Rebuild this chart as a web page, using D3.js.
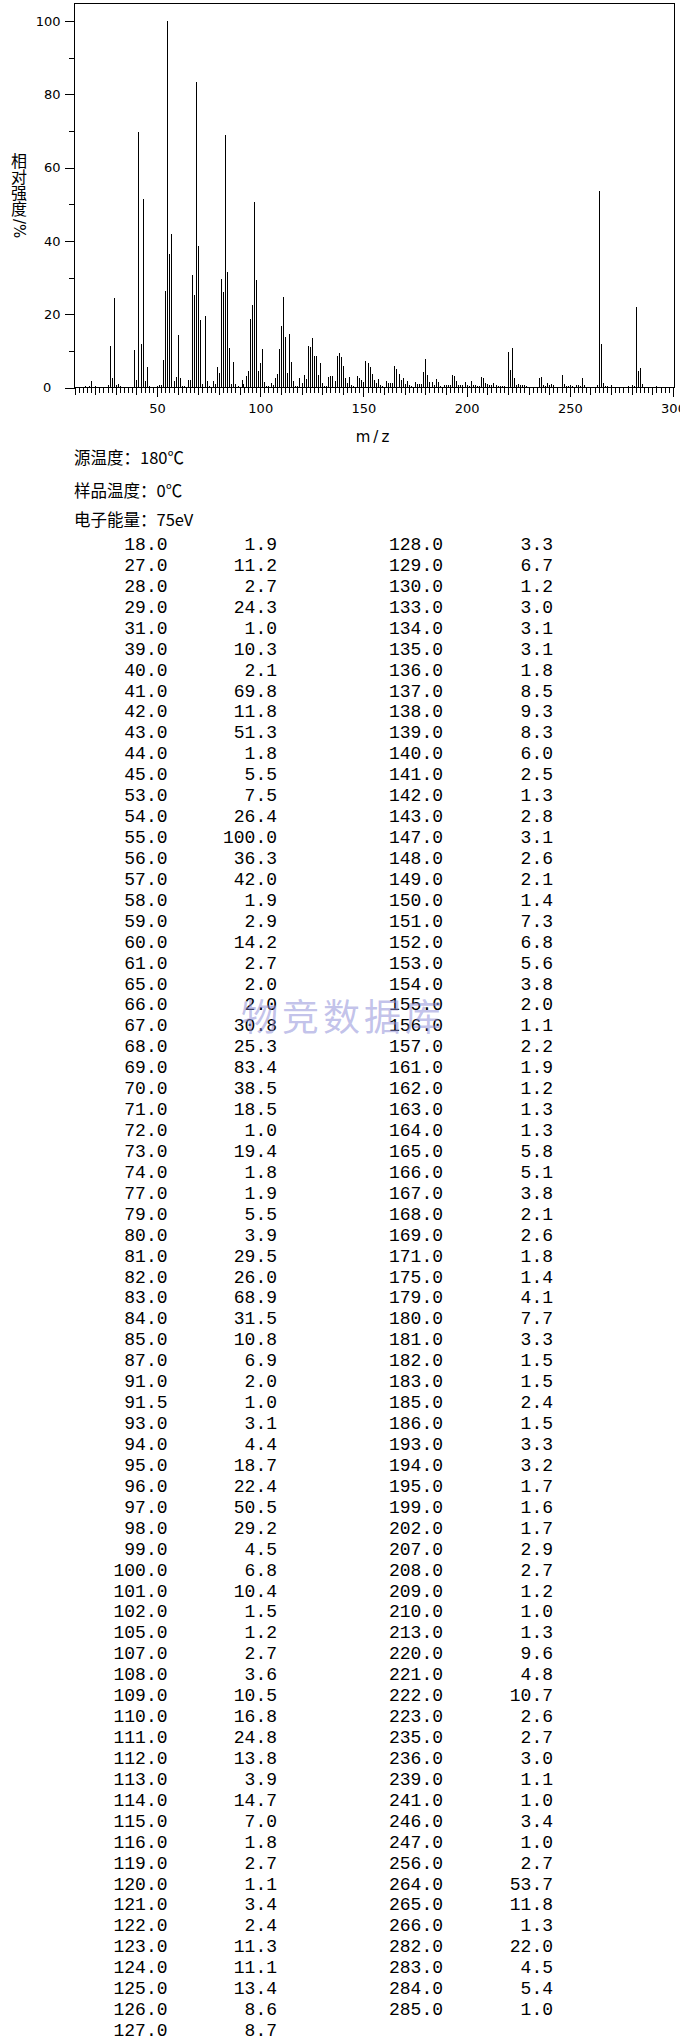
<!DOCTYPE html>
<html><head><meta charset="utf-8">
<script src="https://cdn.jsdelivr.net/npm/d3@7"></script>
<style>html,body{margin:0;padding:0;background:#fff;}</style>
</head><body>
<script>
// ---- data ----
const mzLeft = [18,27,28,29,31,39,40,41,42,43,44,45,53,54,55,56,57,58,59,60,61,65,66,67,68,69,70,71,72,73,74,77,79,80,81,82,83,84,85,87,91,91.5,93,94,95,96,97,98,99,100,101,102,105,107,108,109,110,111,112,113,114,115,116,119,120,121,122,123,124,125,126,127];
const valLeft = [1.9,11.2,2.7,24.3,1.0,10.3,2.1,69.8,11.8,51.3,1.8,5.5,7.5,26.4,100.0,36.3,42.0,1.9,2.9,14.2,2.7,2.0,2.0,30.8,25.3,83.4,38.5,18.5,1.0,19.4,1.8,1.9,5.5,3.9,29.5,26.0,68.9,31.5,10.8,6.9,2.0,1.0,3.1,4.4,18.7,22.4,50.5,29.2,4.5,6.8,10.4,1.5,1.2,2.7,3.6,10.5,16.8,24.8,13.8,3.9,14.7,7.0,1.8,2.7,1.1,3.4,2.4,11.3,11.1,13.4,8.6,8.7];
const mzRight = [128,129,130,133,134,135,136,137,138,139,140,141,142,143,147,148,149,150,151,152,153,154,155,156,157,161,162,163,164,165,166,167,168,169,171,175,179,180,181,182,183,185,186,193,194,195,199,202,207,208,209,210,213,220,221,222,223,235,236,239,241,246,247,256,264,265,266,282,283,284,285];
const valRight = [3.3,6.7,1.2,3.0,3.1,3.1,1.8,8.5,9.3,8.3,6.0,2.5,1.3,2.8,3.1,2.6,2.1,1.4,7.3,6.8,5.6,3.8,2.0,1.1,2.2,1.9,1.2,1.3,1.3,5.8,5.1,3.8,2.1,2.6,1.8,1.4,4.1,7.7,3.3,1.5,1.5,2.4,1.5,3.3,3.2,1.7,1.6,1.7,2.9,2.7,1.2,1.0,1.3,9.6,4.8,10.7,2.6,2.7,3.0,1.1,1.0,3.4,1.0,2.7,53.7,11.8,1.3,22.0,4.5,5.4,1.0];
// small peaks (<1%) visible in the plot but not in the table (estimated)
const minorMz = [15,17,20,26,30,32,46,50,51,52,62,63,75,78,86,88,89,103,104,106,117,118,131,132,144,145,158,159,170,172,173,176,177,178,184,187,189,190,191,192,196,197,198,200,201,203,204,205,206,211,212,214,215,216,217,218,224,225,226,227,228,229,237,238,240,242,248,249,250,251,253,254,255,257,263,267,268,270,278,280,281,292];
const minorVal = [0.3,0.3,0.3,0.6,0.8,0.3,0.3,0.4,0.8,0.6,0.4,0.4,0.3,0.9,0.9,0.9,0.4,0.4,0.4,0.6,0.4,0.4,0.4,0.4,0.6,0.4,0.6,0.4,0.9,0.7,0.4,0.9,0.9,0.9,0.8,0.4,0.8,0.6,0.6,0.6,0.8,0.8,0.6,0.8,0.5,0.6,0.6,0.5,0.5,0.6,0.6,0.8,0.4,0.4,0.4,0.4,0.6,0.9,0.6,0.6,0.6,0.5,0.6,0.5,0.6,0.6,0.4,0.4,0.6,0.4,0.6,0.8,0.4,0.6,0.6,0.5,0.5,0.6,0.5,0.6,0.5,0.4];
const yTicks = [0,20,40,60,80,100];
const xLabelTicks = [50,100,150,200,250,300];
const infoLines = ["源温度：180℃","样品温度：0℃","电子能量：75eV"];
const yTitleCJK = "相对强度";
const yTitleUnit = "/%";
const xTitle = "m/z";
const watermark = "物竞数据库";

// ---- layout ----
const W = 680, H = 2041;
const svg = d3.select("body").append("svg").attr("width", W).attr("height", H)
  .style("display","block").style("background","#fff");

const x = d3.scaleLinear().domain([10, 300]).range([74.5, 673]);
const y = d3.scaleLinear().domain([0, 100]).range([387.5, 21]);

const peaks = mzLeft.map((m,i)=>({m, v:valLeft[i]}))
  .concat(mzRight.map((m,i)=>({m, v:valRight[i]})))
  .concat(minorMz.map((m,i)=>({m, v:minorVal[i]})));

// bars
svg.append("g").selectAll("line").data(peaks).join("line")
  .attr("x1", d=>Math.round(x(d.m))+0.5).attr("x2", d=>Math.round(x(d.m))+0.5)
  .attr("y1", y(0)).attr("y2", d=>y(d.v))
  .attr("stroke","#000").attr("stroke-width",1).attr("shape-rendering","crispEdges");

// frame
svg.append("rect").attr("x",74.5).attr("y",3.5).attr("width",600).attr("height",384)
  .attr("fill","none").attr("stroke","#000").attr("stroke-width",1).attr("shape-rendering","crispEdges");

// axes
const fontAxis = "'DejaVu Sans', sans-serif";
function styleAxis(g){
  g.select(".domain").remove();
  g.selectAll("line").attr("stroke","#000").attr("shape-rendering","crispEdges");
  g.selectAll("text").attr("font-family",fontAxis).attr("font-size",13).attr("fill","#000");
}
svg.append("g").attr("transform",`translate(0,${y(0)})`)
  .call(d3.axisBottom(x).tickValues(d3.range(10,301,2)).tickSize(5.5).tickFormat(""))
  .call(styleAxis);
svg.append("g").attr("transform",`translate(0,${y(0)})`)
  .call(d3.axisBottom(x).tickValues(d3.range(10,301,10)).tickSize(7.5).tickFormat(""))
  .call(styleAxis);
svg.append("g").attr("transform",`translate(0,${y(0)})`)
  .call(d3.axisBottom(x).tickValues(xLabelTicks).tickSize(9.5).tickPadding(7).tickFormat(d3.format("d")))
  .call(styleAxis);

svg.append("g").attr("transform","translate(74.5,0)")
  .call(d3.axisLeft(y).tickValues(d3.range(10,100,20)).tickSize(6).tickFormat(""))
  .call(styleAxis);
const ya = svg.append("g").attr("transform","translate(74.5,0)")
  .call(d3.axisLeft(y).tickValues(yTicks).tickSize(10).tickPadding(4).tickFormat(d3.format("d")))
  .call(styleAxis);
ya.selectAll(".tick").filter(d=>d===0).select("text")
  .attr("text-anchor","start").attr("x",-31.5);

// axis titles
svg.append("text").attr("x", 374).attr("y", 442)
  .attr("text-anchor","middle").attr("font-family",fontAxis).attr("font-size",15)
  .attr("letter-spacing",3).text(xTitle);

const yt = svg.append("g").attr("font-family","'Noto Sans CJK SC', sans-serif").attr("font-size",16).attr("fill","#000");
yt.selectAll("text.c").data(Array.from(yTitleCJK)).join("text").attr("class","c")
  .attr("x",19).attr("y",(d,i)=>167+i*16).attr("text-anchor","middle").text(d=>d);
yt.append("text").attr("transform","translate(19,219) rotate(90)")
  .attr("dominant-baseline","central").attr("font-family",fontAxis).attr("font-size",15)
  .text(yTitleUnit);

// info lines
const infoY = [463.5, 496.5, 526];
svg.append("g").selectAll("text").data(infoLines).join("text")
  .attr("x",74).attr("y",(d,i)=>infoY[i])
  .attr("font-family","'Noto Sans CJK SC', sans-serif").attr("font-size",16.5)
  .attr("fill","#000").text(d=>d);

// table
const row0 = 550, rowH = 20.93;
const mono = "'Liberation Mono', 'Courier New', monospace";
const tg = svg.append("g").attr("font-family",mono).attr("font-size",18).attr("fill","#000");
function col(mzArr, valArr, xm, xv){
  tg.append("g").selectAll("text").data(mzArr).join("text")
    .attr("x",xm).attr("y",(d,i)=>row0+i*rowH).attr("text-anchor","end").text(d=>d.toFixed(1));
  tg.append("g").selectAll("text").data(valArr).join("text")
    .attr("x",xv).attr("y",(d,i)=>row0+i*rowH).attr("text-anchor","end").text(d=>d.toFixed(1));
}
col(mzLeft, valLeft, 167.5, 277);
col(mzRight, valRight, 443, 553);

// watermark
svg.append("text").attr("x",241).attr("y",1031)
  .attr("font-family","'Noto Sans CJK SC', sans-serif").attr("font-size",37)
  .attr("letter-spacing",4).attr("fill","#8f8fd8").attr("fill-opacity",0.55)
  .text(watermark);
</script>
</body></html>
